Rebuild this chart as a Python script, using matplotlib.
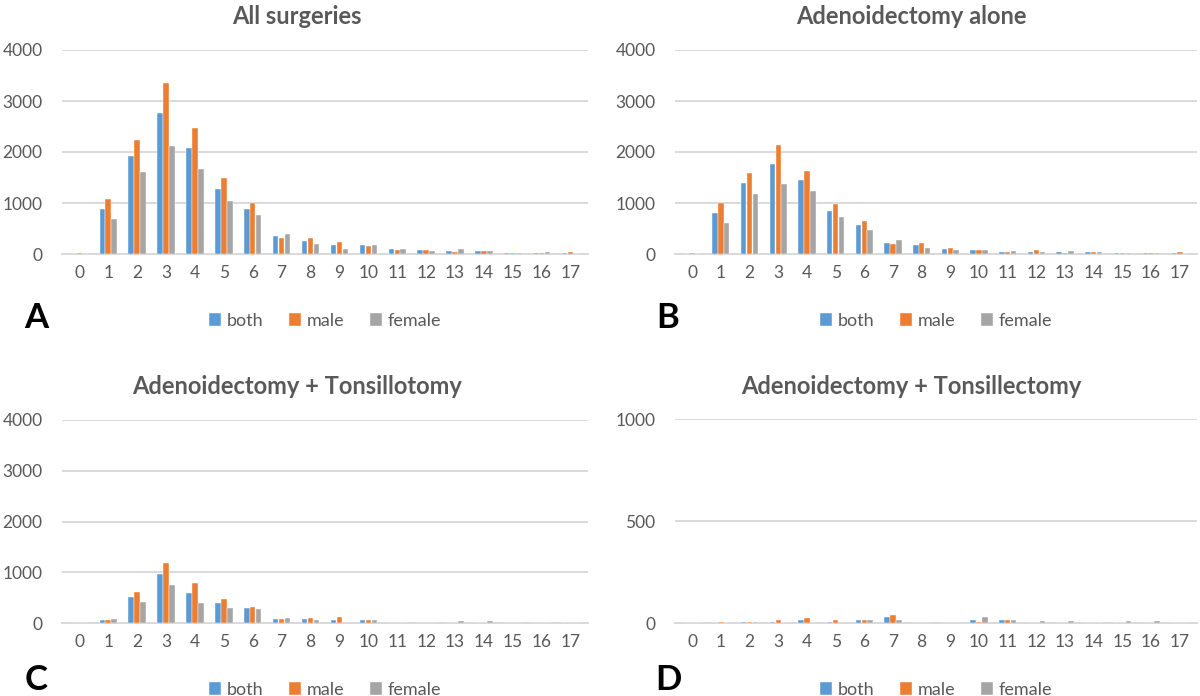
import matplotlib
matplotlib.use('Agg')
import matplotlib.pyplot as plt
import numpy as np

# Age groups (years)
ages = list(range(18))

# All surgeries
all_both = [0, 880, 1930, 2760, 2080, 1270, 880, 350, 260, 180, 180, 90, 80, 60, 60, 20, 20, 20]
all_male = [20, 1070, 2230, 3350, 2470, 1490, 1000, 320, 320, 240, 160, 80, 80, 35, 60, 20, 20, 45]
all_female = [0, 690, 1610, 2110, 1660, 1030, 770, 390, 190, 95, 180, 90, 60, 105, 60, 20, 35, 0]

# Adenoidectomy alone
ad_both = [0, 800, 1400, 1760, 1450, 850, 570, 220, 180, 90, 80, 45, 45, 35, 45, 20, 20, 20]
ad_male = [20, 1000, 1590, 2140, 1625, 990, 640, 190, 220, 110, 80, 45, 80, 20, 45, 20, 20, 35]
ad_female = [0, 610, 1170, 1370, 1245, 720, 470, 270, 110, 80, 80, 60, 35, 60, 35, 20, 20, 0]

# Adenoidectomy + Tonsillotomy
ato_both = [0, 60, 520, 960, 600, 400, 300, 80, 80, 60, 60, 0, 0, 0, 0, 0, 0, 0]
ato_male = [0, 60, 610, 1185, 785, 480, 320, 80, 100, 125, 60, 0, 0, 0, 0, 0, 0, 0]
ato_female = [0, 80, 420, 740, 400, 300, 270, 100, 60, 0, 60, 0, 0, 30, 30, 0, 0, 0]

# Adenoidectomy + Tonsillectomy
ate_both = [0, 0, 5, 5, 13, 5, 16, 29, 0, 0, 16, 16, 0, 0, 0, 0, 0, 0]
ate_male = [0, 7, 5, 16, 24, 16, 16, 37, 0, 0, 5, 16, 0, 0, 0, 0, 0, 0]
ate_female = [0, 0, 5, 0, 0, 0, 16, 16, 0, 0, 28, 16, 10, 10, 0, 10, 10, 0]

panels = [
    ('All surgeries', 'A', all_both, all_male, all_female, 4000, [0, 1000, 2000, 3000, 4000]),
    ('Adenoidectomy alone', 'B', ad_both, ad_male, ad_female, 4000, [0, 1000, 2000, 3000, 4000]),
    ('Adenoidectomy + Tonsillotomy', 'C', ato_both, ato_male, ato_female, 4000, [0, 1000, 2000, 3000, 4000]),
    ('Adenoidectomy + Tonsillectomy', 'D', ate_both, ate_male, ate_female, 1000, [0, 500, 1000]),
]

colors = ['#5B9BD5', '#ED7D31', '#A5A5A5']
labels = ['both', 'male', 'female']
txt_color = '#595959'
grid_color = '#D9D9D9'
plt.rcParams['font.family'] = ['Lato', 'DejaVu Sans']

W, H = 1200, 696
fig = plt.figure(figsize=(12, 6.96), dpi=100)

# pixel boxes of plot areas: left, right, top, bottom
boxes = [(62, 588, 50, 254), (675, 1197, 50, 254), (62, 588, 420, 623), (675, 1197, 419, 623)]
letter_pos = [(36, 318), (668, 318), (36, 680), (668, 680)]
title_pos = [(297, 16), (911, 16), (297, 386), (911, 386)]

x = np.arange(len(ages))
bw = 0.19
for (title, letter, both, male, female, ymax, yticks), (l, r, t, b), (lx, ly), (tx, ty) in zip(
        panels, boxes, letter_pos, title_pos):
    ax = fig.add_axes([l / W, 1 - b / H, (r - l) / W, (b - t) / H])
    for k, vals in enumerate([both, male, female]):
        ax.bar(x + (k - 1) * 0.205, vals, width=bw, color=colors[k], label=labels[k],
               edgecolor='white', linewidth=0.3, zorder=3)
    ax.set_xlim(-0.6, 17.6)
    ax.set_ylim(0, ymax)
    ax.set_yticks(yticks)
    ax.set_xticks(x)
    ax.set_xticklabels([str(a) for a in ages])
    ax.yaxis.grid(True, color=grid_color, linewidth=1.4, zorder=0)
    for s in ['top', 'right', 'left']:
        ax.spines[s].set_visible(False)
    ax.spines['bottom'].set_color(grid_color)
    ax.spines['bottom'].set_linewidth(1.4)
    ax.tick_params(axis='both', length=0, labelsize=12.5, colors=txt_color)
    ax.tick_params(axis='x', pad=8)
    ax.tick_params(axis='y', pad=14)
    fig.text(tx / W, 1 - ty / H, title, ha='center', va='center',
             fontsize=17, fontweight='bold', color=txt_color)
    ax.legend(loc='center', bbox_to_anchor=(0.5, -67 / (b - t)), ncol=3, frameon=False,
              fontsize=13, labelcolor=txt_color, handlelength=0.7, handleheight=0.7,
              handletextpad=0.3, columnspacing=1.4)
    fig.text(lx / W, 1 - ly / H, letter, ha='center', va='center', fontsize=25,
             fontweight='bold', color='black')

fig.savefig('out.png', dpi=100)
